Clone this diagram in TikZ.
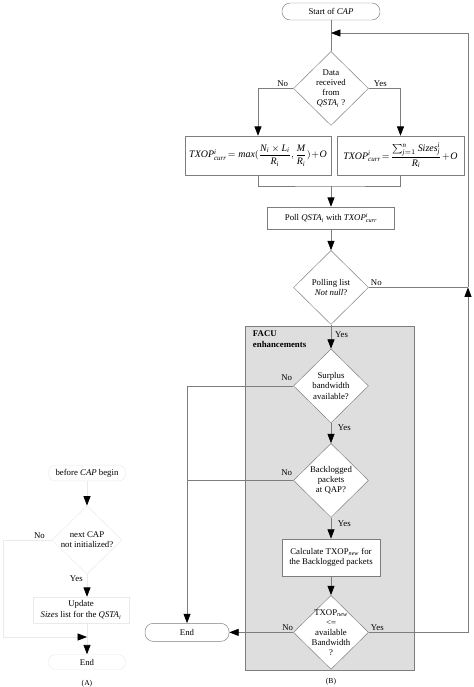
\documentclass[tikz,border=0pt]{standalone}
\usepackage{amsmath}
\usepackage{fontspec}
\setmainfont{Liberation Serif}
\usetikzlibrary{arrows.meta,positioning,shapes.geometric,backgrounds}
\definecolor{linegray}{RGB}{125,125,125}
\definecolor{facugray}{RGB}{222,222,222}
\definecolor{faintgray}{RGB}{234,234,234}
\newcommand{\itv}[1]{\textit{#1}}

\begin{document}
\begin{tikzpicture}[
  x=0.03cm, y=-0.03cm,
  font=\fontsize{7.5}{8.6}\selectfont,
  block/.style={rectangle, draw=linegray, fill=white, align=center, inner sep=1pt},
  decision/.style={diamond, aspect=1, draw=linegray, fill=white, align=center,
                   inner sep=0pt, minimum width=2.25cm, minimum height=2.22cm},
  term/.style={rectangle, rounded corners=7pt, draw=linegray, fill=white,
               minimum width=2.94cm, minimum height=0.51cm},
  conn/.style={draw=linegray, line width=0.6pt},
  arrow/.style={conn, -{Triangle[length=8pt, width=6pt, color=black, fill=black]}},
  faint/.style={draw=faintgray, line width=0.6pt},
  faintarrow/.style={faint, -{Triangle[length=8pt, width=6pt, color=black, fill=black]}},
  formula/.style={block, font=\fontsize{8.5}{10}\selectfont, minimum height=1.17cm},
  lbl/.style={inner sep=0pt}
]
\useasboundingbox (0,0) rectangle (474,687);

% (B) main flow
\node[term] (start) at (331,11.5) {Start of \textit{CAP}};
\node[decision, below=0.93cm of start] (d1) {Data\\received\\from\\$\itv{QSTA}_{\itv{i}}$ ?};
\node[formula, minimum width=4.38cm] (boxL) at (258,155.5)
  {$\itv{TXOP}^{\itv{i}}_{\itv{curr}}\!=\itv{max}(\dfrac{\itv{N}_{\itv{i}}\times\itv{L}_{\itv{i}}}{\itv{R}_{\itv{i}}},\dfrac{\itv{M}}{\itv{R}_{\itv{i}}})\!+\!\itv{O}$};
\node[formula, minimum width=3.81cm] (boxR) at (400.5,155.5)
  {$\itv{TXOP}^{\itv{i}}_{\itv{curr}}\!=\!\dfrac{\sum\nolimits_{\itv{j}=1}^{\itv{n}}\itv{Sizes}^{\itv{i}}_{\itv{j}}}{\itv{R}_{\itv{i}}}\!+\!\itv{O}$};
\node[block, minimum width=3.81cm, minimum height=0.66cm] (poll) at (331,218)
  {Poll $\itv{QSTA}_{\itv{i}}$ with $\itv{TXOP}^{\itv{i}}_{\itv{curr}}$};
\node[decision, below=0.63cm of poll] (d2) {Polling list\\\textit{Not null}?};
\node[decision, below=0.72cm of d2] (d3) {Surplus\\bandwidth\\available?};
\node[decision, below=0.6cm of d3] (d4) {Backlogged\\packets\\at QAP?};
\node[block, minimum width=2.94cm, minimum height=1.11cm, below=0.63cm of d4] (calc)
  {Calculate TXOP$_{\itv{new}}$ for\\the Backlogged packets};
\node[decision, inner sep=-3pt, below=0.57cm of calc] (d5)
  {TXOP$_{\itv{new}}$\\<=\\available\\Bandwidth\\?};
\node[term, minimum width=2.52cm, minimum height=0.54cm, left=1.92cm of d5] (endB) {End};

% FACU area
\begin{scope}[on background layer]
\node[rectangle, draw=linegray, fill=facugray, minimum width=5.07cm, minimum height=10.32cm] (facu) at (329.5,498) {};
\end{scope}
\node[anchor=north west, align=left, inner sep=0pt, font=\fontsize{7.5}{9.5}\selectfont\bfseries]
  (facutxt) at ([xshift=0.24cm, yshift=-0.15cm]facu.north west) {FACU\\enhancements};

\coordinate (loopTop) at (331,33);
\coordinate (rx) at (468,0);
\coordinate (jNo) at (d2.east -| rx);
\coordinate (mrg) at (331,186);

\draw[conn] (start) -- (d1);
\draw[arrow] (d1.west) -| (boxL);
\draw[arrow] (d1.east) -| (boxR);
\draw[conn] (boxL) |- (mrg) -| (boxR);
\draw[arrow] (mrg) -- (poll);
\draw[arrow] (poll) -- (d2);
\draw[arrow] (d2) -- (d3);
\draw[arrow] (d3) -- (d4);
\draw[arrow] (d4) -- (calc);
\draw[arrow] (calc) -- (d5);
\draw[arrow] (d5) -- (endB);
\draw[arrow] (d3.west) -| (endB);
\draw[conn] (d4.west) -- (d4.west -| endB);
\draw[conn] (d2.east) -- (jNo);
\draw[arrow] (d5.east) -| (jNo);
\draw[arrow] (jNo) |- (loopTop);

\node[lbl, above left=0.5mm and 1.5mm of d1.west] (no1) {No};
\node[lbl, above right=0.5mm and 1.5mm of d1.east] (yes1) {Yes};
\node[lbl, above right=0.5mm and 0.6mm of d2.east] (no2) {No};
\node[lbl, below right=2mm and 1.2mm of d2.south] (yes2) {Yes};
\node[lbl, above left=1.5mm and 0.3mm of d3.west] (no3) {No};
\node[lbl, below right=0.3mm and 2mm of d3.south] (yes3) {Yes};
\node[lbl, above left=1.5mm and 0.3mm of d4.west] (no4) {No};
\node[lbl, below right=1mm and 2mm of d4.south] (yes4) {Yes};
\node[lbl, above left=0.5mm and 0mm of d5.west] (no5) {No};
\node[lbl, above right=0.5mm and 0.6mm of d5.east] (yes5) {Yes};

% (A) initialisation
\node[term, draw=faintgray, minimum width=2.31cm, minimum height=0.42cm, rounded corners=6pt] (before) at (87,473) {before \textit{CAP} begin};
\node[decision, draw=faintgray, minimum width=2.1cm, minimum height=2.04cm] (dA) at (87,540) {next CAP\\not initialized?};
\node[block, draw=faintgray, minimum width=2.88cm, minimum height=0.78cm, font=\fontsize{7.5}{9.4}\selectfont] (upd) at (81,610)
  {Update\\\textit{Sizes} list for the $\itv{QSTA}_{\itv{i}}$};
\node[term, draw=faintgray, minimum width=2.31cm, minimum height=0.45cm, rounded corners=6pt] (endA) at (87,662) {End};
\coordinate (jA) at (87,637);
\coordinate (cA) at (3,0);

\draw[faintarrow] (before) -- (dA);
\draw[faintarrow] (dA.south) -- (dA.south |- upd.north);
\draw[faint] (upd.south -| jA) -- (jA);
\draw[faintarrow] (jA) -- (endA);
\draw[faintarrow] (dA.west) -- (dA.west -| cA) |- (jA);

\node[lbl, above left=0.5mm and 2mm of dA.west] (noA) {No};
\node[lbl, below left=0.2mm and 1.2mm of dA.south] (yesA) {Yes};

% captions
\node[font=\fontsize{6.5}{8}\selectfont] (capA) at (87,684) {(A)};
\node[font=\fontsize{6.5}{8}\selectfont] (capB) at (331,682) {(B)};
\end{tikzpicture}
\end{document}
